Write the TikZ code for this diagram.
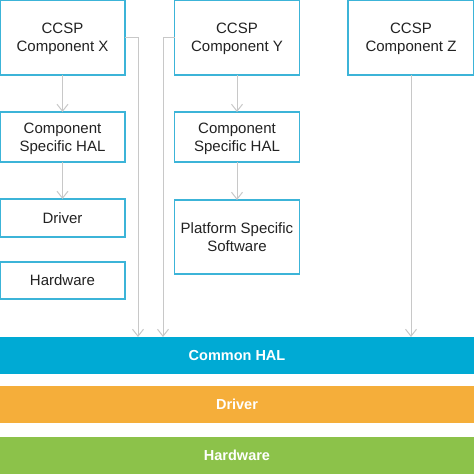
\documentclass[tikz,border=0pt]{standalone}
\usepackage{fontspec}
\setmainfont{Liberation Sans}
\usetikzlibrary{arrows.meta}
\definecolor{boxline}{RGB}{60,180,216}
\definecolor{flowgray}{RGB}{200,200,200}
\definecolor{halblue}{RGB}{0,170,212}
\definecolor{drvorange}{RGB}{245,174,58}
\definecolor{hwgreen}{RGB}{140,194,74}
\definecolor{textdark}{RGB}{34,34,34}
\begin{document}
\begin{tikzpicture}[
    x = 1pt,
    y = -1pt,
    >={Straight Barb[length=7pt,width=11pt]},
    block/.style = {draw=boxline, line width=1.3pt, fill=white,
    minimum width=125pt, inner sep=0pt, outer sep=0pt, align=center,
    text depth=0pt, text=textdark, font=\fontsize{15}{18}\selectfont},
    layer/.style = {minimum width=474pt, minimum height=37pt,
    inner sep=0pt, outer sep=0pt, text=white,
    font=\fontsize{14.5}{17}\selectfont\bfseries},
    flow/.style = {->, draw=flowgray, line width=1pt},
]
\useasboundingbox (0,0) rectangle (474,474);

\node[block, minimum height=75pt] (compX) at (62.5,37.5){CCSP\\Component X};
\node[block, minimum height=50pt] (halX) at (62.5,137){Component\\Specific HAL};
\node[block, minimum height=38pt] (drvX) at (62.5,218){Driver};
\node[block, minimum height=37pt] (hwX) at (62.5,280.5){Hardware};

\node[block, minimum height=75pt] (compY) at (237,37.5){CCSP\\Component Y};
\node[block, minimum height=50pt] (halY) at (237,137){Component\\Specific HAL};
\node[block, minimum height=74pt] (pssY) at (237,237){Platform Specific\\Software};

\node[block, minimum width=126pt, minimum height=75pt] (compZ) at (411,37.5){CCSP\\Component Z};

\node[layer, fill=halblue] (commonhal) at (237,355.5){Common HAL};
\node[layer, fill=drvorange] (driver) at (237,404.5){Driver};
\node[layer, fill=hwgreen] (hardware) at (237,455.5){Hardware};

\draw[flow] (compX) -- (halX);
\draw[flow] (halX) -- (drvX);
\draw[flow] (compY) -- (halY);
\draw[flow] (halY) -- (pssY);
\draw[flow] (compX.east) -| (commonhal.north -| 138,0);
\draw[flow] (compY.west) -| (commonhal.north -| 163,0);
\draw[flow] (compZ) -- (compZ |- commonhal.north);
\end{tikzpicture}
\end{document}
